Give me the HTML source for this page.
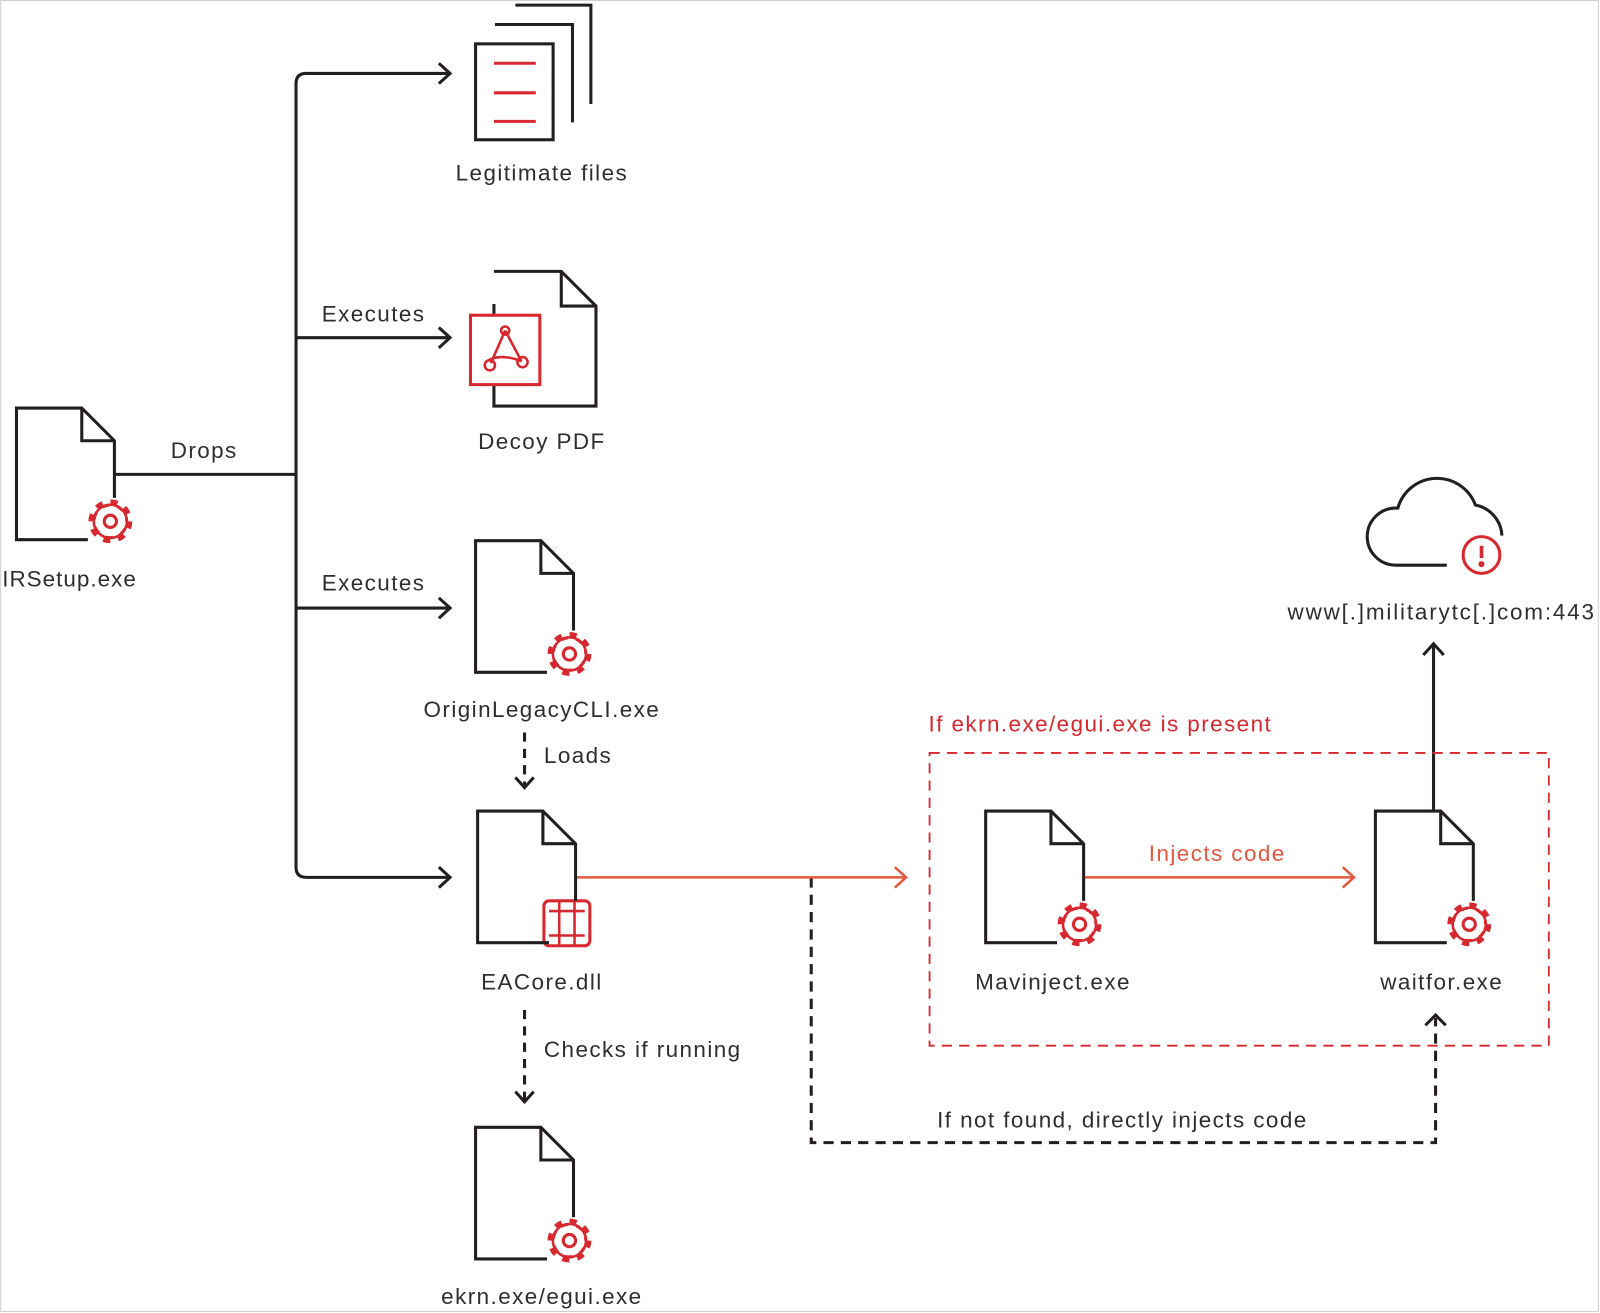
<!DOCTYPE html>
<html><head><meta charset="utf-8"><style>
html,body{margin:0;padding:0;background:#fff;}
svg{display:block}
text{font-family:"Liberation Sans",sans-serif;font-size:22px;fill:#2e2e2e;letter-spacing:1.4px}
</style></head><body>
<svg width="1600" height="1313" viewBox="0 0 1568 1287" xmlns="http://www.w3.org/2000/svg">
<defs>
<g id="gear">
  <circle r="16" fill="#fff" stroke="#d7282f" stroke-width="3"/>
  <circle r="19" fill="none" stroke="#d7282f" stroke-width="5" stroke-dasharray="7 7.92"/>
  <circle r="15" fill="#fff"/>
  <circle r="16" fill="none" stroke="#d7282f" stroke-width="3" stroke-dasharray="7 7.92" stroke-dashoffset="7.5"/>
  <circle r="6" fill="none" stroke="#d7282f" stroke-width="3"/>
</g>
<g id="doc">
  <path d="M96,88 V32 L64,0 H0 V129 H70" fill="none" stroke="#231f20" stroke-width="3"/>
  <path d="M64,0 V32 H96" fill="none" stroke="#231f20" stroke-width="3"/>
</g>
<g id="gdoc">
  <use href="#doc"/>
  <use href="#gear" x="92" y="111"/>
</g>
</defs>
<rect x="0.5" y="0.5" width="1566" height="1285" fill="#fff" stroke="#d0d0d0" stroke-width="1"/>

<g fill="none" stroke="#231f20" stroke-width="3">
  <path d="M113,465 H290"/>
  <path d="M440,72 H300 Q290,72 290,82 V850 Q290,860 300,860 H440"/>
  <path d="M290,331 H440 M290,596 H440"/>
  <path d="M430,62 L441,72 L430,82 M430,321 L441,331 L430,341 M430,586 L441,596 L430,606 M430,850 L441,860 L430,870"/>
  <rect x="466" y="43" width="76" height="94"/>
  <path d="M485,24 H561 V120 M505,5 H579 V102"/>
  <path d="M484,266 H550 L584,300 V398 H484 V377 M550,266 V300 H584 M484,309 V298"/>
  <path d="M514,718 V770 M514,990 V1078" stroke-dasharray="9 7"/>
  <path d="M505,762 L514,772 L523,762 M505,1070 L514,1080 L523,1070"/>
  <path d="M795,860 V1120 H1407 V998" stroke-dasharray="10 7"/>
  <path d="M1397,1005 L1407,995 L1417,1005"/>
  <path d="M1405,795 V632 M1395,642 L1405,631 L1415,642"/>
  <path d="M1418,554 H1368 A28,28 0 0 1 1368,498 L1370,498 A40,40 0 0 1 1446,495 A32,32 0 0 1 1472,525"/>
</g>
<g fill="none" stroke="#d7282f" stroke-width="3">
  <path d="M484,62 H525 M484,91 H525 M484,119 H525"/>
  <rect x="461" y="309" width="68" height="68" fill="#fff"/>
  <path d="M495,324 L481,356 M495,324 L511,354 M477,354 Q490,346 511,354" stroke-width="2.5"/>
  <circle cx="495" cy="324" r="4" stroke-width="2.5"/>
  <circle cx="480" cy="358" r="5" stroke-width="2.5"/>
  <circle cx="512" cy="355" r="5" stroke-width="2.5"/>
  <rect x="533" y="883" width="45" height="44" rx="5"/>
  <path d="M548,883 V927 M563,883 V927 M538,893 H573 M538,917 H573" stroke-width="2.5"/>
  <circle cx="1452" cy="544" r="18" fill="#fff"/>
  <path d="M1452,535 V547" stroke-width="3.5"/>
  <circle cx="1452" cy="553" r="1.5" fill="#d7282f"/>
  <rect x="911" y="738" width="607" height="287" stroke-width="1.8" stroke-dasharray="10 7"/>
</g>
<g fill="none" stroke="#e2583e" stroke-width="2.5">
  <path d="M565,860 H887 M877,850 L888,860 L877,870"/>
  <path d="M1062,860 H1326 M1316,850 L1327,860 L1316,870"/>
</g>

<use href="#gdoc" x="16" y="400"/>
<use href="#gdoc" x="466" y="530"/>
<use href="#doc" x="468" y="795"/>
<use href="#gdoc" x="466" y="1105"/>
<use href="#gdoc" x="966" y="795"/>
<use href="#gdoc" x="1348" y="795"/>

<text x="200" y="449" text-anchor="middle">Drops</text>
<text x="366" y="315" text-anchor="middle">Executes</text>
<text x="366" y="579" text-anchor="middle">Executes</text>
<text x="531" y="177" text-anchor="middle">Legitimate files</text>
<text x="531" y="440" text-anchor="middle">Decoy PDF</text>
<text x="2" y="575" style="letter-spacing:1px">IRSetup.exe</text>
<text x="531" y="703" text-anchor="middle">OriginLegacyCLI.exe</text>
<text x="533" y="748">Loads</text>
<text x="531" y="970" text-anchor="middle">EACore.dll</text>
<text x="533" y="1036">Checks if running</text>
<text x="531" y="1278" text-anchor="middle">ekrn.exe/egui.exe</text>
<text x="910" y="717" style="fill:#d7282f">If ekrn.exe/egui.exe is present</text>
<text x="1193" y="844" text-anchor="middle" style="fill:#e2583e">Injects code</text>
<text x="1032" y="970" text-anchor="middle">Mavinject.exe</text>
<text x="1413" y="970" text-anchor="middle">waitfor.exe</text>
<text x="1413" y="607" text-anchor="middle" style="letter-spacing:1.8px">www[.]militarytc[.]com:443</text>
<text x="1100" y="1105" text-anchor="middle">If not found, directly injects code</text>
</svg>
</body></html>
